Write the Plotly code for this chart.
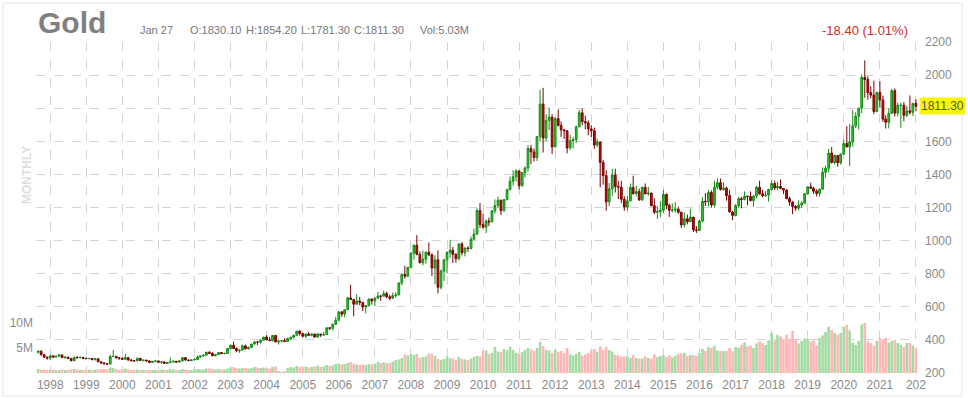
import pandas as pd
import plotly.graph_objects as go

START_MONTH = "1997-09-01"

OPENS = [
    325, 332, 311, 296,
    290, 304, 297, 301, 309, 293, 296, 288, 274, 294, 292, 294,
    288, 287, 288, 280, 286, 268, 261, 256, 254, 299, 300, 292,
    290, 283, 293, 278, 274, 273, 288, 276, 278, 273, 264, 270,
    273, 265, 267, 258, 264, 266, 271, 266, 273, 293, 279, 275,
    279, 282, 297, 303, 308, 326, 318, 304, 312, 324, 317, 318,
    348, 368, 348, 335, 339, 364, 346, 354, 375, 388, 386, 398,
    417, 400, 396, 427, 388, 393, 395, 391, 408, 416, 428, 453,
    438, 422, 435, 428, 435, 417, 435, 429, 433, 473, 470, 495,
    518, 569, 556, 582, 654, 644, 616, 635, 627, 599, 607, 647,
    636, 652, 665, 664, 680, 660, 652, 667, 672, 744, 795, 784,
    837, 924, 972, 917, 866, 888, 930, 914, 834, 884, 718, 816,
    884, 928, 942, 917, 891, 980, 927, 955, 952, 1008, 1040, 1182,
    1097, 1081, 1118, 1113, 1180, 1212, 1244, 1181, 1248, 1307, 1359, 1386,
    1421, 1332, 1411, 1439, 1556, 1536, 1502, 1628, 1825, 1620, 1725, 1746,
    1566, 1737, 1696, 1669, 1664, 1560, 1604, 1610, 1687, 1772, 1719, 1712,
    1675, 1663, 1578, 1596, 1472, 1393, 1234, 1313, 1396, 1327, 1323, 1250,
    1202, 1240, 1321, 1284, 1296, 1246, 1322, 1282, 1287, 1211, 1171, 1175,
    1184, 1279, 1213, 1183, 1184, 1190, 1172, 1095, 1132, 1114, 1142, 1065,
    1061, 1118, 1238, 1234, 1291, 1215, 1322, 1350, 1309, 1317, 1272, 1173,
    1152, 1211, 1253, 1249, 1268, 1266, 1242, 1269, 1322, 1283, 1271, 1275,
    1309, 1345, 1318, 1327, 1315, 1305, 1254, 1233, 1206, 1196, 1215, 1226,
    1283, 1325, 1316, 1298, 1285, 1311, 1413, 1437, 1529, 1472, 1514, 1470,
    1523, 1587, 1566, 1596, 1694, 1751, 1800, 1986, 1973, 1895, 1879, 1780,
    1895, 1850, 1734, 1715, 1769, 1906, 1771, 1817, 1818, 1757, 1784, 1775,
    1830.1,
]

HIGHS = [
    336, 336, 313, 298,
    310, 306, 304, 315, 311, 299, 298, 290, 300, 302, 300, 298,
    293, 291, 291, 291, 290, 268, 263, 261, 309, 339, 303, 292,
    292, 316, 294, 285, 278, 294, 292, 280, 279, 275, 272, 274,
    273, 272, 269, 266, 294, 275, 271, 278, 295, 293, 280, 280,
    289, 306, 304, 310, 327, 331, 326, 314, 325, 325, 323, 350,
    372, 389, 354, 342, 372, 372, 360, 376, 392, 392, 400, 418,
    428, 418, 429, 430, 396, 398, 410, 414, 419, 430, 455, 458,
    438, 440, 448, 438, 437, 442, 437, 448, 476, 478, 497, 539,
    575, 574, 587, 660, 733, 646, 675, 660, 628, 609, 649, 650,
    657, 690, 670, 697, 692, 673, 686, 687, 747, 800, 848, 842,
    930, 976, 1033, 934, 940, 935, 988, 922, 912, 941, 825, 890,
    936, 1005, 961, 924, 983, 991, 960, 966, 1025, 1072, 1195, 1227,
    1163, 1127, 1139, 1181, 1249, 1266, 1248, 1250, 1314, 1388, 1425, 1432,
    1424, 1414, 1448, 1576, 1578, 1556, 1632, 1912, 1923, 1764, 1804, 1764,
    1745, 1792, 1720, 1676, 1667, 1640, 1627, 1696, 1790, 1798, 1755, 1726,
    1697, 1683, 1617, 1598, 1488, 1425, 1348, 1434, 1434, 1362, 1361, 1268,
    1270, 1345, 1392, 1331, 1315, 1326, 1345, 1324, 1290, 1255, 1208, 1238,
    1307, 1285, 1223, 1224, 1232, 1205, 1174, 1170, 1157, 1191, 1143, 1088,
    1128, 1263, 1287, 1305, 1304, 1362, 1377, 1375, 1352, 1326, 1307, 1180,
    1220, 1264, 1264, 1297, 1273, 1296, 1274, 1330, 1362, 1306, 1299, 1311,
    1366, 1362, 1356, 1369, 1316, 1310, 1266, 1238, 1214, 1243, 1240, 1286,
    1326, 1350, 1325, 1310, 1313, 1442, 1453, 1555, 1566, 1520, 1517, 1525,
    1611, 1691, 1704, 1788, 1775, 1802, 2005, 2089, 1992, 1933, 1966, 1900,
    1963, 1876, 1757, 1799, 1916, 1919, 1834, 1834, 1837, 1814, 1877, 1831,
    1854.2,
]

LOWS = [
    318, 305, 291, 281,
    278, 290, 292, 300, 290, 286, 286, 271, 273, 289, 289, 285,
    283, 283, 278, 277, 266, 256, 252, 251, 253, 296, 288, 280,
    281, 282, 275, 272, 269, 270, 275, 270, 270, 263, 263, 267,
    262, 255, 255, 255, 264, 265, 263, 265, 271, 275, 272, 271,
    276, 282, 289, 300, 306, 314, 301, 300, 311, 313, 314, 317,
    344, 344, 325, 322, 337, 343, 342, 352, 372, 370, 377, 398,
    399, 393, 391, 385, 372, 384, 386, 389, 399, 409, 427, 426,
    416, 410, 425, 422, 414, 414, 418, 426, 432, 459, 456, 491,
    518, 539, 538, 582, 641, 543, 615, 610, 573, 560, 604, 613,
    604, 648, 637, 664, 651, 639, 648, 656, 670, 730, 770, 781,
    835, 885, 911, 863, 850, 860, 907, 786, 737, 681, 705, 756,
    802, 896, 865, 866, 881, 910, 905, 932, 948, 1002, 1033, 1076,
    1073, 1045, 1088, 1112, 1163, 1196, 1155, 1175, 1242, 1306, 1331, 1357,
    1309, 1326, 1381, 1417, 1462, 1478, 1481, 1600, 1532, 1600, 1668, 1523,
    1564, 1690, 1627, 1615, 1527, 1548, 1556, 1590, 1687, 1697, 1672, 1636,
    1626, 1555, 1565, 1322, 1338, 1180, 1208, 1270, 1291, 1251, 1226, 1180,
    1182, 1238, 1277, 1268, 1240, 1240, 1282, 1272, 1207, 1160, 1131, 1141,
    1167, 1190, 1142, 1170, 1170, 1162, 1077, 1080, 1098, 1113, 1052, 1046,
    1058, 1111, 1209, 1206, 1200, 1200, 1310, 1302, 1301, 1241, 1171, 1124,
    1146, 1200, 1195, 1243, 1214, 1237, 1204, 1255, 1277, 1261, 1264, 1236,
    1302, 1307, 1303, 1310, 1282, 1250, 1211, 1160, 1180, 1182, 1196, 1222,
    1276, 1311, 1281, 1267, 1266, 1306, 1381, 1412, 1465, 1459, 1446, 1459,
    1518, 1564, 1450, 1568, 1680, 1671, 1770, 1863, 1851, 1860, 1764, 1775,
    1803, 1717, 1677, 1678, 1765, 1750, 1750, 1682, 1721, 1746, 1761, 1753,
    1781.3,
]

CLOSES = [
    332, 311, 296, 290,
    304, 297, 301, 309, 293, 296, 288, 274, 294, 292, 294, 288,
    287, 288, 280, 286, 268, 261, 256, 254, 299, 300, 292, 290,
    283, 293, 278, 274, 273, 288, 276, 278, 273, 264, 270, 273,
    265, 267, 258, 264, 266, 271, 266, 273, 293, 279, 275, 279,
    282, 297, 303, 308, 326, 318, 304, 312, 324, 317, 318, 348,
    368, 348, 335, 339, 364, 346, 354, 375, 388, 386, 398, 417,
    400, 396, 427, 388, 393, 395, 391, 408, 416, 428, 453, 438,
    422, 435, 428, 435, 417, 435, 429, 433, 473, 470, 495, 518,
    569, 556, 582, 654, 644, 616, 635, 627, 599, 607, 647, 636,
    652, 665, 664, 680, 660, 652, 667, 672, 744, 795, 784, 837,
    924, 972, 917, 866, 888, 930, 914, 834, 884, 718, 816, 884,
    928, 942, 917, 891, 980, 927, 955, 952, 1008, 1040, 1182, 1097,
    1081, 1118, 1113, 1180, 1212, 1244, 1181, 1248, 1307, 1359, 1386, 1421,
    1332, 1411, 1439, 1556, 1536, 1502, 1628, 1825, 1620, 1725, 1746, 1566,
    1737, 1696, 1669, 1664, 1560, 1604, 1610, 1687, 1772, 1719, 1712, 1675,
    1663, 1578, 1596, 1472, 1393, 1234, 1313, 1396, 1327, 1323, 1250, 1202,
    1240, 1321, 1284, 1296, 1246, 1322, 1282, 1287, 1211, 1171, 1175, 1184,
    1279, 1213, 1183, 1184, 1190, 1172, 1095, 1132, 1114, 1142, 1065, 1061,
    1118, 1238, 1234, 1291, 1215, 1322, 1350, 1309, 1317, 1272, 1173, 1152,
    1211, 1253, 1249, 1268, 1266, 1242, 1269, 1322, 1283, 1271, 1275, 1309,
    1345, 1318, 1327, 1315, 1305, 1254, 1233, 1206, 1196, 1215, 1226, 1283,
    1325, 1316, 1298, 1285, 1311, 1413, 1437, 1529, 1472, 1514, 1470, 1523,
    1587, 1566, 1596, 1694, 1751, 1800, 1986, 1973, 1895, 1879, 1780, 1895,
    1850, 1734, 1715, 1769, 1906, 1771, 1817, 1818, 1757, 1784, 1775, 1829,
    1811.3,
]

VOLUMES_M = [
    0.8, 0.7, 0.7, 0.6,
    0.6, 0.7, 0.6, 0.6, 0.7, 0.6, 0.6, 0.7, 0.8, 0.7, 0.6, 0.6,
    0.6, 0.7, 0.6, 0.7, 0.7, 0.8, 0.8, 0.8, 1.1, 1.0, 0.8, 0.6,
    0.7, 0.9, 0.7, 0.6, 0.6, 0.7, 0.6, 0.6, 0.6, 0.6, 0.6, 0.6,
    0.6, 0.7, 0.7, 0.6, 0.8, 0.7, 0.6, 0.6, 0.8, 0.7, 0.6, 0.6,
    0.7, 0.8, 0.7, 0.7, 0.9, 0.9, 0.8, 0.7, 0.8, 0.7, 0.7, 0.9,
    1.1, 1.2, 1.0, 0.9, 1.0, 1.0, 0.9, 1.0, 1.2, 1.1, 1.0, 1.1,
    1.0, 0.9, 1.2, 1.3, 0.3, 0.2, 0.3, 1.0, 1.2, 1.1, 1.4, 1.2,
    1.2, 1.3, 1.1, 1.2, 1.3, 1.5, 1.2, 1.3, 1.6, 1.4, 1.5, 1.8,
    1.9, 1.7, 1.8, 2.0, 2.2, 1.9, 1.7, 1.6, 1.7, 1.6, 1.8, 1.7,
    1.9, 2.2, 2.0, 2.1, 2.0, 2.0, 2.3, 2.6, 2.7, 3.0, 3.7, 3.5,
    3.8, 3.6, 3.8, 3.0, 3.2, 3.3, 3.9, 3.8, 3.4, 2.8, 2.6, 2.8,
    3.3, 3.0, 2.9, 2.6, 3.2, 2.8, 2.7, 2.6, 2.9, 3.2, 3.4, 3.3,
    4.4, 4.5, 3.8, 4.0, 5.2, 4.3, 4.2, 4.8, 4.5, 5.3, 4.6, 4.0,
    3.8, 4.2, 4.6, 5.0, 4.7, 4.4, 5.0, 6.2, 5.4, 4.6, 4.5, 4.0,
    4.7, 4.2, 4.4, 4.0, 5.0, 3.7, 3.5, 3.8, 4.2, 3.5, 3.7, 4.0,
    4.5, 4.8, 4.2, 5.3, 4.6, 5.2, 4.6, 4.3, 3.6, 3.5, 3.3, 3.3,
    3.3, 3.0, 3.6, 3.0, 2.9, 2.9, 3.3, 3.0, 2.9, 3.7, 3.2, 3.4,
    3.6, 3.2, 3.5, 3.1, 3.4, 3.8, 3.9, 4.0, 3.4, 3.6, 3.6, 3.4,
    4.0, 4.8, 4.4, 5.2, 5.0, 5.4, 4.5, 4.4, 4.4, 4.4, 5.0, 4.3,
    5.2, 5.0, 5.6, 6.1, 5.3, 5.5, 5.0, 5.9, 6.3, 6.0, 5.6, 6.5,
    8.0, 6.5, 7.6, 7.3, 6.8, 7.7, 6.9, 8.4, 6.8, 5.9, 6.4, 6.9,
    6.8, 6.3, 6.5, 5.5, 7.0, 7.5, 8.2, 9.2, 8.6, 8.0, 7.6, 8.0,
    9.3, 9.6, 8.5, 6.0, 5.6, 6.4, 9.7, 10.0, 6.3, 6.0, 5.4, 6.4,
    7.0, 6.6, 7.0, 6.1, 6.4, 6.6, 6.0, 5.6, 5.2, 6.0, 6.0, 5.5,
    5.03,
]

YEAR_TICKS = [f"{y}-01-01" for y in range(1998, 2023)]
YEAR_LABELS = [str(y) for y in range(1998, 2022)] + ["202"]
PRICE_TICKS = [200, 400, 600, 800, 1000, 1200, 1400, 1600, 1800, 2000, 2200]
PRICE_LABELS = ["200", "400", "600", "800", "1000", "1200", "1400", "1600", "", "2000", "2200"]
VOL_TICKS = [5, 10]
VOL_LABELS = ["5M", "10M"]

HEADER_ITEMS = ["Jan 27", "O:1830.10", "H:1854.20", "L:1781.30", "C:1811.30", "Vol:5.03M"]
HEADER_X = [138, 188, 244, 299, 352, 418]
CHANGE_TEXT = "-18.40 (1.01%)"
LAST_PRICE = 1811.3
LAST_PRICE_TEXT = "1811.30"

dates = pd.date_range(START_MONTH, periods=len(CLOSES), freq="MS")

W, H = 968, 398
L, R, T, B = 36, 918, 42, 373


def px(x):
    return (x - L) / (R - L)


def py(y):
    return (B - y) / (B - T)


vol_colors = ["#a3dba3" if c >= o else "#ffb6b6" for o, c in zip(OPENS, CLOSES)]

fig = go.Figure()
fig.add_trace(go.Bar(
    x=dates, y=VOLUMES_M, marker=dict(color=vol_colors, line=dict(width=0)),
    yaxis="y", xaxis="x", showlegend=False, hoverinfo="skip",
))
fig.add_trace(go.Candlestick(
    x=dates, open=OPENS, high=HIGHS, low=LOWS, close=CLOSES,
    yaxis="y2", xaxis="x", showlegend=False,
    increasing=dict(line=dict(color="#158a15", width=1), fillcolor="#2ecc2e"),
    decreasing=dict(line=dict(color="#7a0000", width=1), fillcolor="#c01010"),
    whiskerwidth=0,
))

FONT = "Liberation Sans, Arial, sans-serif"
grid = "#d4d4d4"
tickfont = dict(family=FONT, size=12, color="#8a8a8a")

fig.update_layout(
    width=W, height=H, autosize=False,
    margin=dict(l=L, r=W - R, t=T, b=H - B, pad=0, autoexpand=False),
    paper_bgcolor="white", plot_bgcolor="white",
    bargap=0.05, boxgap=0.1,
    font=dict(family=FONT),
    xaxis=dict(
        type="date", range=["1997-08-10", "2022-01-22"],
        tickvals=YEAR_TICKS, ticktext=YEAR_LABELS, tickfont=tickfont,
        showgrid=True, gridcolor=grid, griddash="dash", gridwidth=1,
        zeroline=False, showline=False, ticks="", automargin=False,
        ticklabelstandoff=3,
        rangeslider=dict(visible=False),
    ),
    yaxis=dict(
        range=[0, 66], tickvals=VOL_TICKS, ticktext=VOL_LABELS, side="left",
        showgrid=False, zeroline=False, showline=False, ticks="", automargin=False,
        tickfont=tickfont, ticklabelstandoff=2,
    ),
    yaxis2=dict(
        range=[200, 2200], tickvals=PRICE_TICKS, ticktext=PRICE_LABELS,
        overlaying="y", side="right",
        showgrid=True, gridcolor=grid, griddash="dash", gridwidth=1,
        zeroline=False, showline=False, ticks="", automargin=False,
        tickfont=tickfont, ticklabelstandoff=6,
    ),
    hovermode=False,
)

head = dict(family=FONT, size=11, color="#777777")
ann = [
    dict(text="<b>Gold</b>", x=px(36), y=py(22), xanchor="left", yanchor="middle",
         xref="paper", yref="paper",
         font=dict(family=FONT, size=30, color="#808080")),
]
for txt, xp in zip(HEADER_ITEMS, HEADER_X):
    ann.append(dict(text=txt, x=px(xp), y=py(30), xanchor="left", yanchor="middle",
                    xref="paper", yref="paper", font=head))
ann += [
    dict(text=CHANGE_TEXT, x=px(820), y=py(30), xanchor="left", yanchor="middle",
         xref="paper", yref="paper",
         font=dict(family=FONT, size=13, color="#d42a2a")),
    dict(text="<b>MONTHLY</b>", x=px(27), y=py(175), xanchor="center", yanchor="middle",
         xref="paper", yref="paper",
         textangle=-90, font=dict(family=FONT, size=12, color="#dedede")),
    dict(text=LAST_PRICE_TEXT, x=px(919), y=LAST_PRICE, xanchor="left", yanchor="middle",
         xref="paper", yref="y2",
         bgcolor="#f7f700", borderpad=1,
         font=dict(family=FONT, size=12, color="#555555")),
]
for a in ann:
    a.update(showarrow=False)
fig.update_layout(annotations=ann)

fig.add_shape(type="rect", xref="paper", yref="paper",
              x0=px(3), x1=px(962), y0=py(396), y1=py(3),
              line=dict(color="#e6e6e6", width=1), fillcolor="rgba(0,0,0,0)", layer="below")

fig.write_html("out.html", config={"displayModeBar": False},
               post_script="document.body.style.margin='0';")
